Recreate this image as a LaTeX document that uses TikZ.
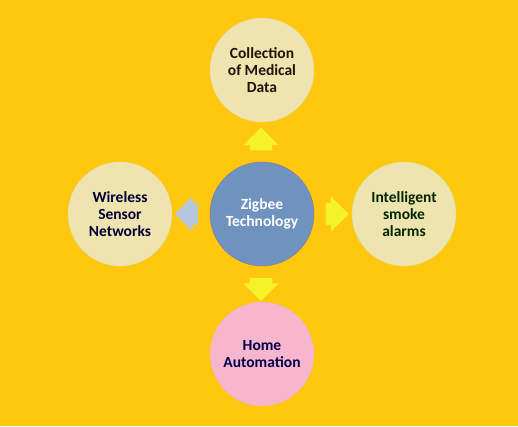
\documentclass[tikz,border=0pt]{standalone}
\usepackage{fontspec}
\setmainfont{Carlito}
\usetikzlibrary{shapes.arrows}

\definecolor{bgyellow}{HTML}{FFC80E}
\definecolor{paletan}{HTML}{EFE4B0}
\definecolor{zigblue}{HTML}{7092BF}
\definecolor{homepink}{HTML}{F8B6CD}
\definecolor{arrowyellow}{HTML}{F6F229}
\definecolor{arrowblue}{HTML}{B5C6DD}

\begin{document}
\begin{tikzpicture}[x=1pt,y=1pt,
	bubble/.style={circle,minimum size=104pt,inner sep=0pt,align=center,
		font=\bfseries\fontsize{15.5}{17}\selectfont},
	blockarrow/.style={single arrow,minimum height=23pt,inner xsep=0pt,inner ysep=11pt,
		single arrow head extend=6.5pt,single arrow head indent=0pt,draw=none}]
			\fill [bgyellow] (0,0) rectangle (518,426);
			
			\node [bubble,fill=zigblue,draw=zigblue!80!red,text=white] (zig) at (262,212) {Zigbee\\Technology};
			
			\node [bubble,fill=paletan,draw=paletan!90!gray,text=black!85!brown] (med) at (262,356) {Collection\\of Medical\\Data};
			\node [bubble,fill=paletan,draw=paletan!90!gray,text=black!80!blue] (wsn) at (120,212) {Wireless\\Sensor\\Networks};
			\node [bubble,fill=paletan,draw=paletan!85!green,text=black!85!green] (smoke) at (404,212) {Intelligent\\smoke\\alarms};
			\node [bubble,fill=homepink,draw=gray!60,dotted,text=black!70!blue] (home) at (262,72) {Home\\Automation};
			
			\node [blockarrow,fill=arrowyellow,rotate=90] (up) at (261,281.5) {};
			\node [blockarrow,fill=arrowyellow,rotate=-90] (down) at (261,142) {};
			\node [blockarrow,fill=arrowblue,rotate=180] (left) at (192,212) {};
			\node [blockarrow,fill=arrowyellow] (right) at (331.5,212) {};
\end{tikzpicture}
\end{document}
